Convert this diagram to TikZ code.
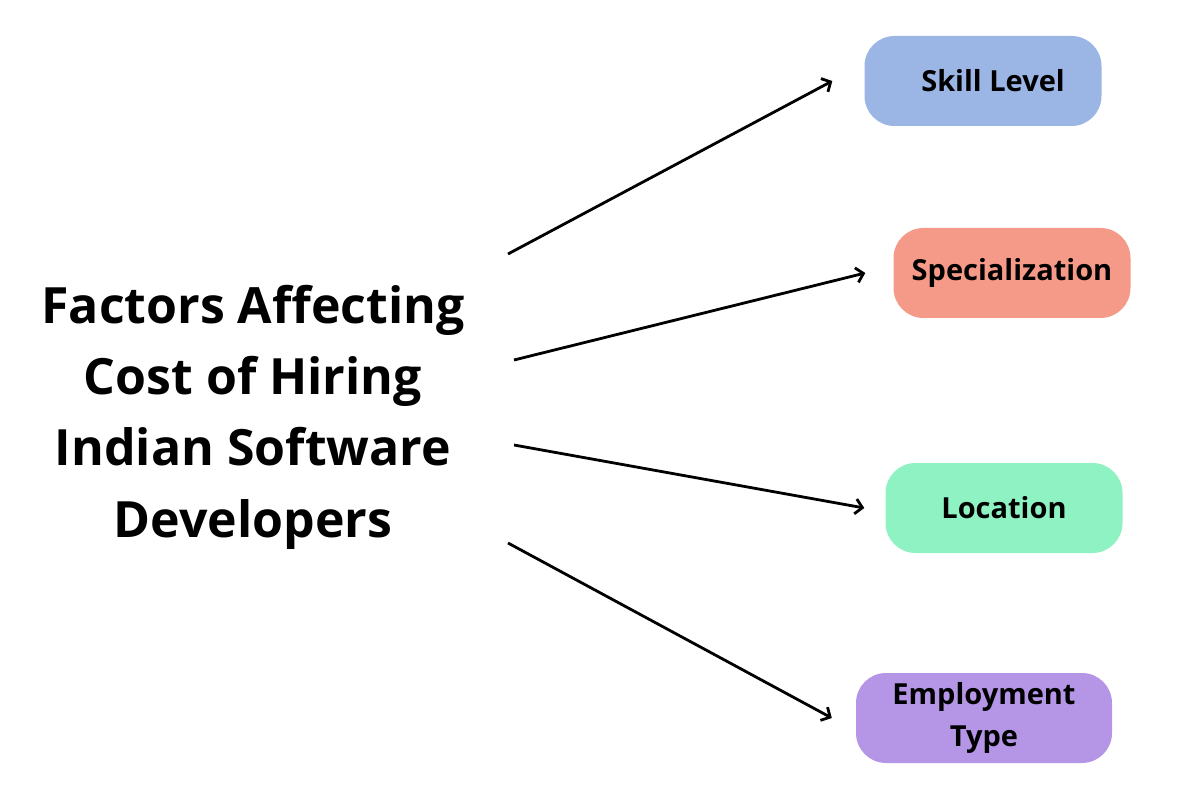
\documentclass[tikz,border=0pt]{standalone}
\usepackage{fontspec}
\setmainfont{Open Sans}
\usetikzlibrary{arrows.meta}
\usetikzlibrary{positioning}

\definecolor{skillblue}{HTML}{9BB5E5}
\definecolor{specred}{HTML}{F59A88}
\definecolor{locgreen}{HTML}{8EF2C2}
\definecolor{emppurple}{HTML}{B596E6}

\begin{document}
\begin{tikzpicture}
[x=1pt,y=-1pt,
  factor/.style = {rectangle,rounded corners=30pt,minimum width=237pt,
        minimum height=90pt,inner sep=0pt,align=center,
        font=\fontsize{29}{42}\selectfont\bfseries},
  mainarrow/.style = {-{Straight Barb[length=7pt,width=15pt]},line width=2.8pt},
  title/.style = {align=center,inner sep=0pt,
        font=\fontsize{50}{71.3}\selectfont\bfseries}]
\useasboundingbox (0,0) rectangle (1200,794);

\node[title] (T) at (253,417) {Factors Affecting\\Cost of Hiring\\Indian Software\\Developers};

\node[factor,fill=skillblue] (SKILL) at (983,81) {\hspace*{20pt}Skill Level};
\node[factor,fill=specred] (SPEC) at (1012,273) {Specialization};
\node[factor,fill=locgreen] (LOC) at (1004,508) {Location};
\node[factor,fill=emppurple,minimum width=256pt] (EMP) at (984,718) {Employment\\Type};
%
\coordinate (S1) at (508,254);
\coordinate (S2) at (514,360);
\coordinate (S3) at (514,445);
\coordinate (S4) at (508,543);
%
   \draw[mainarrow] (S1) -- ([xshift=-32pt]SKILL.west);
   \draw[mainarrow] (S2) -- ([xshift=-28pt]SPEC.west);
   \draw[mainarrow] (S3) -- ([xshift=-21pt]LOC.west);
   \draw[mainarrow] (S4) -- ([xshift=-24pt]EMP.west);
\end{tikzpicture}
\end{document}
